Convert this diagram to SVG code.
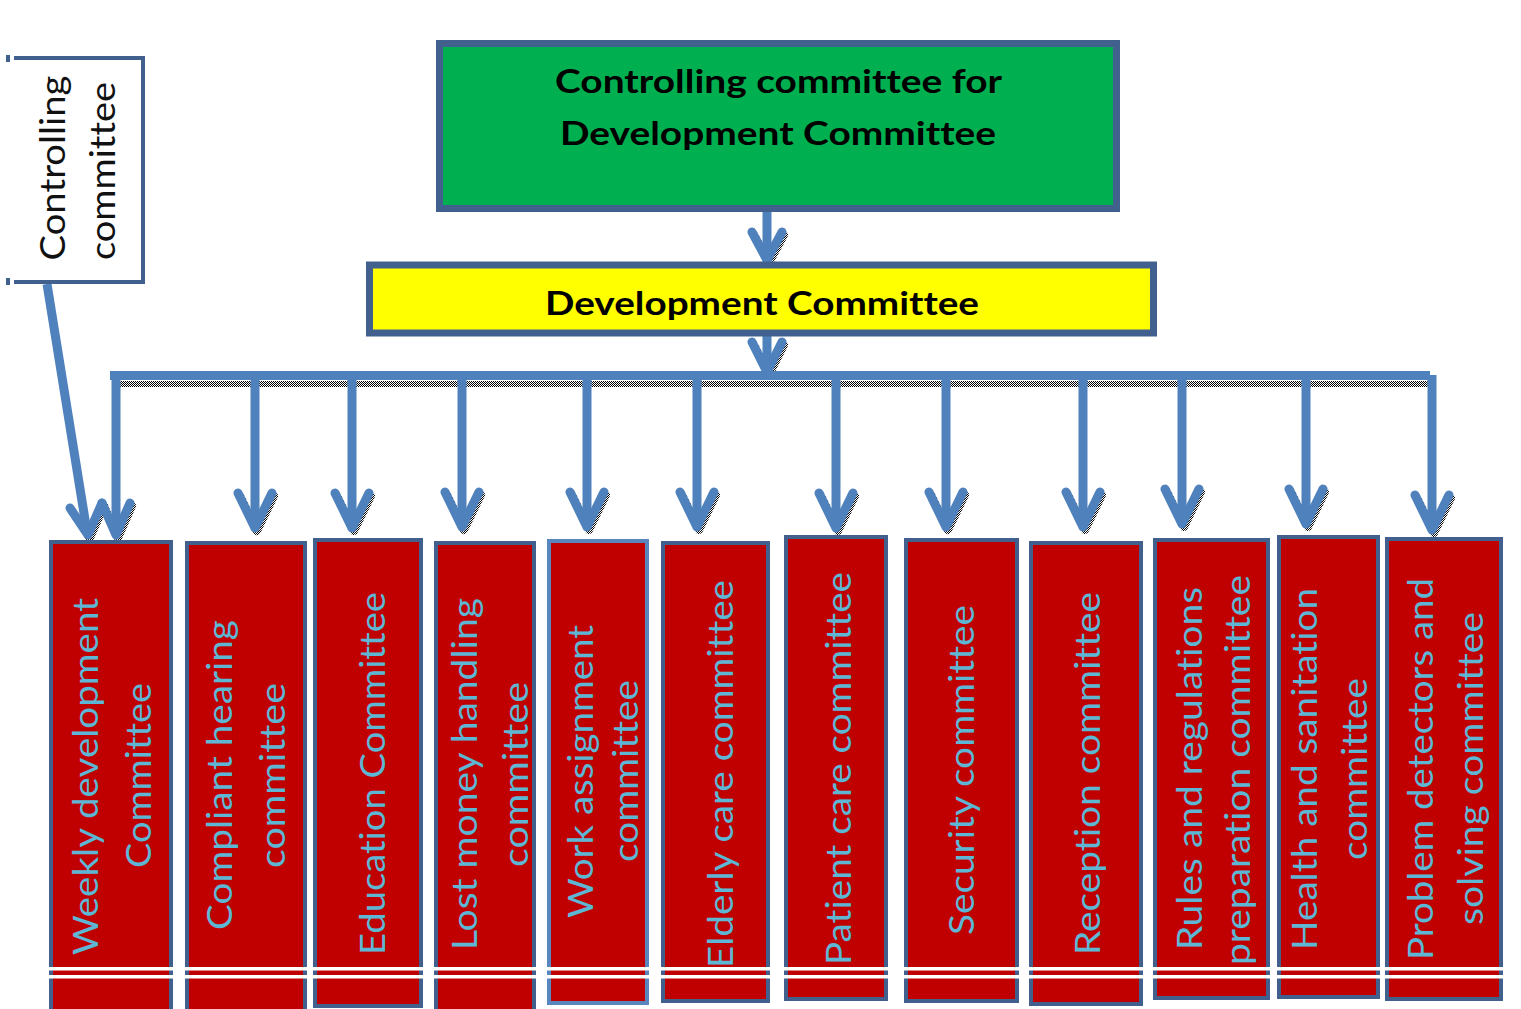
<svg xmlns="http://www.w3.org/2000/svg" width="1521" height="1009" viewBox="0 0 1521 1009">
<style>
.bg{fill:#ffffff}
text{font-variant-ligatures:none;font-feature-settings:"liga" 0,"clig" 0,"dlig" 0}
.box{fill:#C00000;stroke:#41608E;stroke-width:4}
.box.light{stroke:#5A86C0}
.rt{font-family:Lato,"Open Sans","Liberation Sans",sans-serif;font-size:35px;fill:#5DB7D4;text-anchor:middle}
.bt{font-family:Lato,"Open Sans","Liberation Sans",sans-serif;font-size:33px;font-weight:bold;fill:#000;text-anchor:middle}
.ct{font-family:Lato,"Open Sans","Liberation Sans",sans-serif;font-size:34px;fill:#111;text-anchor:middle}
.ln{fill:none;stroke:#4F81BD;stroke-width:9;stroke-linejoin:round}
.hd{fill:none;stroke:#4F81BD;stroke-width:9;stroke-linecap:round;stroke-linejoin:round}
.sh{fill:none;stroke:url(#dither);stroke-width:8;stroke-linecap:round;stroke-linejoin:round}
.cut{fill:#ffffff}
</style>
<defs>
<pattern id="dither" width="2" height="2" patternUnits="userSpaceOnUse">
<rect x="0" y="0" width="1" height="1" fill="#000"/>
<rect x="1" y="1" width="1" height="1" fill="#000"/>
</pattern>
</defs>
<rect class="bg" x="0" y="0" width="1521" height="1009"/>

<g id="connectors">
<g transform="translate(2,3)">
<path class="sh" d="M752,232 L767,260 L782,232"/>
<path class="sh" d="M752,342 L767,372 L782,342"/>
<path class="sh" d="M70,508 L88,535 L102,503"/>
<path class="sh" d="M102,503 L116,535 L130,503"/>
<path class="sh" d="M238,493 L255,528 L272,493"/>
<path class="sh" d="M335,493 L352,528 L369,493"/>
<path class="sh" d="M445,492 L462,527 L479,492"/>
<path class="sh" d="M570,492 L587,527 L604,492"/>
<path class="sh" d="M680,492 L697,527 L714,492"/>
<path class="sh" d="M819,493 L836,528 L853,493"/>
<path class="sh" d="M929,492 L946,527 L963,492"/>
<path class="sh" d="M1066,492 L1083,527 L1100,492"/>
<path class="sh" d="M1165,489 L1182,524 L1199,489"/>
<path class="sh" d="M1289,489 L1306,524 L1323,489"/>
<path class="sh" d="M1415,495 L1432,530 L1449,495"/>
</g>
<rect x="120" y="381" width="1310" height="6" fill="url(#dither)"/>
<line class="ln" x1="767" y1="212" x2="767" y2="258"/>
<path class="hd" d="M752,232 L767,260 L782,232"/>
<line class="ln" x1="767" y1="336" x2="767" y2="370"/>
<path class="hd" d="M752,342 L767,372 L782,342"/>
<line class="ln" x1="110" y1="375.5" x2="1430" y2="375.5" stroke-linecap="butt"/>
<line class="ln" x1="47" y1="284" x2="87" y2="532"/>
<path class="hd" d="M70,508 L88,535 L102,503"/>
<g>
<line class="ln" x1="116" y1="371" x2="116" y2="532"/>
<path class="hd" d="M102,503 L116,535 L130,503"/>
<line class="ln" x1="255" y1="375" x2="255" y2="525"/>
<path class="hd" d="M238,493 L255,528 L272,493"/>
<line class="ln" x1="352" y1="375" x2="352" y2="525"/>
<path class="hd" d="M335,493 L352,528 L369,493"/>
<line class="ln" x1="462" y1="375" x2="462" y2="524"/>
<path class="hd" d="M445,492 L462,527 L479,492"/>
<line class="ln" x1="587" y1="375" x2="587" y2="524"/>
<path class="hd" d="M570,492 L587,527 L604,492"/>
<line class="ln" x1="697" y1="375" x2="697" y2="524"/>
<path class="hd" d="M680,492 L697,527 L714,492"/>
<line class="ln" x1="836" y1="375" x2="836" y2="525"/>
<path class="hd" d="M819,493 L836,528 L853,493"/>
<line class="ln" x1="946" y1="375" x2="946" y2="524"/>
<path class="hd" d="M929,492 L946,527 L963,492"/>
<line class="ln" x1="1083" y1="375" x2="1083" y2="524"/>
<path class="hd" d="M1066,492 L1083,527 L1100,492"/>
<line class="ln" x1="1182" y1="375" x2="1182" y2="521"/>
<path class="hd" d="M1165,489 L1182,524 L1199,489"/>
<line class="ln" x1="1306" y1="375" x2="1306" y2="521"/>
<path class="hd" d="M1289,489 L1306,524 L1323,489"/>
<line class="ln" x1="1432" y1="375" x2="1432" y2="527"/>
<path class="hd" d="M1415,495 L1432,530 L1449,495"/>
</g>
</g>

<g id="controlling-committee">
<g fill="none" stroke="#41608E" stroke-width="4">
<polyline points="14,58 143,58 143,282 14,282"/>
<line x1="8" y1="55" x2="8" y2="62"/>
<line x1="8" y1="278" x2="8" y2="285"/>
</g>
<text class="ct" transform="translate(65,168) rotate(-90)" textLength="185" lengthAdjust="spacingAndGlyphs">Controlling</text>
<text class="ct" transform="translate(115,171) rotate(-90)" textLength="178" lengthAdjust="spacingAndGlyphs">committee</text>
</g>

<g id="controlling-dev">
<rect x="439.5" y="43.5" width="677" height="165" fill="#00B050" stroke="#41608E" stroke-width="7"/>
<text class="bt" x="778.5" y="93" textLength="447" lengthAdjust="spacingAndGlyphs">Controlling committee for</text>
<text class="bt" x="778" y="145" textLength="436" lengthAdjust="spacingAndGlyphs">Development Committee</text>
</g>

<g id="development-committee">
<rect x="369.5" y="265" width="784" height="68" fill="#FFFF00" stroke="#41608E" stroke-width="7"/>
<text class="bt" x="762" y="315" textLength="434" lengthAdjust="spacingAndGlyphs">Development Committee</text>
</g>

<g id="weekly">
<rect class="box" x="51" y="542" width="120" height="480"/>
<text class="rt" transform="translate(98,776.5) rotate(-90)" textLength="357" lengthAdjust="spacingAndGlyphs">Weekly development</text>
<text class="rt" transform="translate(151,775.5) rotate(-90)" textLength="185" lengthAdjust="spacingAndGlyphs">Committee</text>
</g>
<g id="compliant">
<rect class="box" x="187" y="543" width="118" height="480"/>
<text class="rt" transform="translate(232,775) rotate(-90)" textLength="310" lengthAdjust="spacingAndGlyphs">Compliant hearing</text>
<text class="rt" transform="translate(285,775.5) rotate(-90)" textLength="185" lengthAdjust="spacingAndGlyphs">committee</text>
</g>
<g id="education">
<rect class="box" x="315" y="540" width="106" height="466"/>
<text class="rt" transform="translate(385,773.5) rotate(-90)" textLength="363" lengthAdjust="spacingAndGlyphs">Education Committee</text>
</g>
<g id="lost-money">
<rect class="box" x="436" y="543" width="98" height="480"/>
<text class="rt" transform="translate(477,774) rotate(-90)" textLength="352" lengthAdjust="spacingAndGlyphs">Lost money handling</text>
<text class="rt" transform="translate(528,774.5) rotate(-90)" textLength="185" lengthAdjust="spacingAndGlyphs">committee</text>
</g>
<g id="work-assignment">
<rect class="box light" x="549" y="541" width="98" height="462"/>
<text class="rt" transform="translate(593,771.5) rotate(-90)" textLength="293" lengthAdjust="spacingAndGlyphs">Work assignment</text>
<text class="rt" transform="translate(638,771) rotate(-90)" textLength="182" lengthAdjust="spacingAndGlyphs">committee</text>
</g>
<g id="elderly">
<rect class="box" x="663" y="543" width="105" height="458"/>
<text class="rt" transform="translate(733,774) rotate(-90)" textLength="388" lengthAdjust="spacingAndGlyphs">Elderly care committee</text>
</g>
<g id="patient">
<rect class="box" x="786" y="537" width="100" height="462"/>
<text class="rt" transform="translate(851,768.5) rotate(-90)" textLength="393" lengthAdjust="spacingAndGlyphs">Patient care committee</text>
</g>
<g id="security">
<rect class="box" x="906" y="540" width="111" height="461"/>
<text class="rt" transform="translate(974,770) rotate(-90)" textLength="330" lengthAdjust="spacingAndGlyphs">Security committee</text>
</g>
<g id="reception">
<rect class="box" x="1031" y="543" width="110" height="461"/>
<text class="rt" transform="translate(1100,773.5) rotate(-90)" textLength="363" lengthAdjust="spacingAndGlyphs">Reception committee</text>
</g>
<g id="rules">
<rect class="box" x="1155" y="540" width="113" height="458"/>
<text class="rt" transform="translate(1202,768.5) rotate(-90)" textLength="363" lengthAdjust="spacingAndGlyphs">Rules and regulations</text>
<text class="rt" transform="translate(1250,770) rotate(-90)" textLength="390" lengthAdjust="spacingAndGlyphs">preparation committee</text>
</g>
<g id="health">
<rect class="box" x="1279" y="537" width="99" height="460"/>
<text class="rt" transform="translate(1317,769) rotate(-90)" textLength="362" lengthAdjust="spacingAndGlyphs">Health and sanitation</text>
<text class="rt" transform="translate(1367,769) rotate(-90)" textLength="182" lengthAdjust="spacingAndGlyphs">committee</text>
</g>
<g id="problem">
<rect class="box" x="1387" y="539" width="114" height="460"/>
<text class="rt" transform="translate(1433,769) rotate(-90)" textLength="382" lengthAdjust="spacingAndGlyphs">Problem detectors and</text>
<text class="rt" transform="translate(1483,768.5) rotate(-90)" textLength="313" lengthAdjust="spacingAndGlyphs">solving committee</text>
</g>

<rect class="cut" x="44" y="967" width="1464" height="3.5"/>
<rect class="cut" x="44" y="975" width="1464" height="3.5"/>
</svg>
